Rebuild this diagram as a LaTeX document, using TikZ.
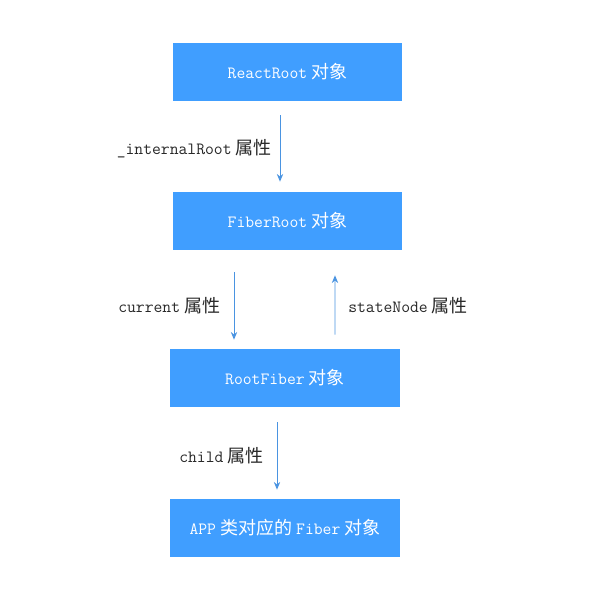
\documentclass[tikz,border=0pt]{standalone}
\usepackage{fontspec}
\newfontfamily\zhfont[Scale=1.05]{Noto Sans CJK SC}
\newcommand{\zh}[1]{{\zhfont #1}}
\usetikzlibrary{arrows.meta}
\definecolor{fibblue}{RGB}{64,158,255}
\definecolor{fibline}{RGB}{74,148,225}
\definecolor{fibtext}{RGB}{40,40,40}

\begin{document}
\begin{tikzpicture}[
    x=0.025cm, y=-0.025cm,
    objbox/.style={fill=fibblue, text=white, minimum width=5.725cm, minimum height=1.45cm, inner sep=0pt, font=\ttfamily\fontsize{12.2}{14}\selectfont},
    proplabel/.style={text=fibtext, inner sep=0pt, font=\ttfamily\fontsize{12.2}{14}\selectfont},
    arr/.style={draw=fibline, line width=0.7pt, -{Stealth[length=5.5pt, width=4.5pt]}}
  ]
  \useasboundingbox[fill=white] (0,0) rectangle (600,600);

  % objects
  \node[objbox] (reactroot) at (287.5,72) {ReactRoot\zh{ 对象}};
  \node[objbox] (fiberroot) at (287.5,221) {FiberRoot\zh{ 对象}};
  \node[objbox] (rootfiber) at (285,378) {RootFiber\zh{ 对象}};
  \node[objbox] (appfiber) at (285,528) {APP\zh{ 类对应的 }Fiber\zh{ 对象}};

  % properties
  \node[proplabel, anchor=east] (internallbl) at (272,149) {\_internalRoot\zh{ 属性}};
  \node[proplabel, anchor=west] (currentlbl) at (118,306) {current\zh{ 属性}};
  \node[proplabel, anchor=west] (statelbl) at (348,306) {stateNode\zh{ 属性}};
  \node[proplabel, anchor=west] (childlbl) at (179,456) {child\zh{ 属性}};

  % links
  \draw[arr, shorten <=0.35cm, shorten >=0.25cm] ([shift={(-7.5,0)}]reactroot.south) -- ([shift={(-7.5,0)}]fiberroot.north);
  \draw[arr, shorten <=0.55cm, shorten >=0.225cm] ([shift={(-53.5,0)}]fiberroot.south) -- ([shift={(-51,0)}]rootfiber.north);
  \draw[arr, shorten <=0.35cm, shorten >=0.625cm] ([shift={(50,0)}]rootfiber.north) -- ([shift={(47.5,0)}]fiberroot.south);
  \draw[arr, shorten <=0.375cm, shorten >=0.225cm] ([shift={(-8,0)}]rootfiber.south) -- ([shift={(-8,0)}]appfiber.north);
\end{tikzpicture}
\end{document}
